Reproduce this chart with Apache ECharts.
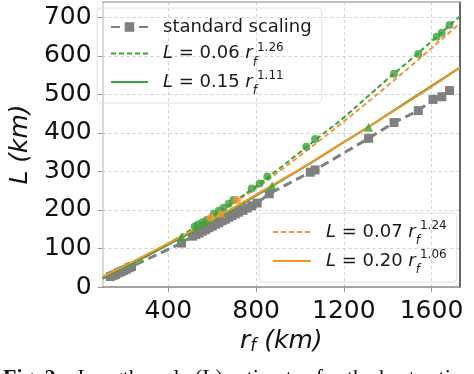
<!DOCTYPE html>
<html>
<head>
<meta charset="utf-8">
<script src="https://cdn.jsdelivr.net/npm/echarts@6/dist/echarts.min.js"></script>
<style>
html,body{margin:0;padding:0;background:#fff;}
#chart{width:474px;height:374px;}
</style>
</head>
<body>
<div id="chart"></div>
<script>
// ---- data ----
const xTicks = [400, 800, 1200, 1600];

const stdX = [135, 148, 160, 172, 184, 196, 208, 220, 232, 460, 510, 525, 540, 555, 570, 585, 600, 615, 630, 645, 660, 675, 690, 705, 720, 740, 760, 780, 805, 860, 1047, 1069, 1313, 1429, 1540, 1607, 1647, 1682];
const stdY = [27, 30, 33, 37, 40, 43, 46, 50, 53, 114, 132, 136, 140, 145, 149, 154, 158, 163, 167, 172, 176, 181, 185, 190, 194, 199, 205, 211, 218, 242, 298, 304, 386, 427, 458, 487, 494, 510];

const fitX = [100, 200, 300, 400, 500, 600, 700, 800, 900, 1000, 1100, 1200, 1300, 1400, 1500, 1600, 1700, 1730];
const greenDashY  = [22, 50, 80, 113, 148, 185, 222, 262, 305, 350, 395, 440, 490, 540, 588, 638, 688, 703];
const orangeDashY = [22, 50, 80, 112, 146, 182, 219, 257, 298, 341, 385, 430, 476, 523, 571, 620, 670, 685];
const greenSolidY = [25, 52, 80, 110, 140, 171, 203, 237, 271, 305, 340, 376, 411, 448, 485, 522, 559, 570];
const orangeSolidY= [27, 55, 84, 114, 144, 175, 207, 240, 273, 306, 341, 376, 411, 447, 483, 520, 558, 569];

const greenCircleX = [520, 535, 555, 575, 607, 630, 651, 675, 696, 780, 816, 851, 1029, 1069, 1429, 1540, 1624, 1647, 1682];
const greenCircleY = [157, 162, 168, 174, 190, 198, 206, 216, 226, 256, 269, 287, 364, 384, 554, 605, 650, 660, 680];
const orangeCircleX = [593, 713];
const orangeCircleY = [180, 226];
const greenTriX = [460, 873, 1313];
const greenTriY = [130, 263, 415];
const orangeTriX = [638];
const orangeTriY = [192];

const names = {
  std: 'standard scaling',
  gd: 'L = 0.06 r_f^1.26',
  gs: 'L = 0.15 r_f^1.11',
  od: 'L = 0.07 r_f^1.24',
  os: 'L = 0.20 r_f^1.06'
};
const legendRich = {
  [names.std]: 'standard scaling',
  [names.gd]: '{i|L} = 0.06 {i|r}{sub|f}{sup|1.26}',
  [names.gs]: '{i|L} = 0.15 {i|r}{sub|f}{sup|1.11}',
  [names.od]: '{i|L} = 0.07 {i|r}{sub|f}{sup|1.24}',
  [names.os]: '{i|L} = 0.20 {i|r}{sub|f}{sup|1.06}'
};

// ---- helpers ----
const zip = (xs, ys) => xs.map((x, i) => [x, ys[i]]);
const FONT = 'DejaVu Sans';
const GREEN = '#3ca03c';
const ORANGE = '#f5952e';
const GRAY = '#808080';

const legendText = {
  fontFamily: FONT, fontSize: 18, color: '#1a1a1a', lineHeight: 26,
  padding: [0, 0, 0, 10],
  rich: {
    i: {fontFamily: FONT, fontSize: 18, fontStyle: 'italic', color: '#1a1a1a'},
    sub: {fontFamily: FONT, fontSize: 12, fontStyle: 'italic', verticalAlign: 'bottom', height: 8, color: '#1a1a1a'},
    sup: {fontFamily: FONT, fontSize: 12, verticalAlign: 'top', height: 14, color: '#1a1a1a'}
  }
};
const lineOnly = n => ({name: n, itemStyle: {opacity: 0}});

const chart = echarts.init(document.getElementById('chart'), null, {renderer: 'canvas'});
const option = {
  animation: false,
  backgroundColor: '#fff',
  grid: {left: 94, right: 14, top: 2, bottom: 87, containLabel: false},
  xAxis: [{
    type: 'value', min: 100, max: 1730, position: 'bottom',
    name: '{i|r}{sub|f}{i| (km)}', nameLocation: 'middle', nameGap: 40,
    nameTextStyle: {
      fontFamily: FONT, fontSize: 25, color: '#111',
      rich: {
        i: {fontFamily: FONT, fontSize: 25, fontStyle: 'italic', color: '#111'},
        sub: {fontFamily: FONT, fontSize: 17, fontStyle: 'italic', verticalAlign: 'bottom', height: 14, color: '#111'}
      }
    },
    axisLine: {show: true, onZero: false, lineStyle: {color: '#8a8a8a', width: 1.5}},
    axisTick: {show: true, length: 5, customValues: xTicks, lineStyle: {color: '#999'}},
    axisLabel: {customValues: xTicks, formatter: v => String(v), fontFamily: FONT, fontSize: 25, color: '#111', margin: 12},
    splitLine: {show: true, lineStyle: {color: '#d0d0d0', type: [3, 3], width: 1}}
  }, {
    type: 'value', min: 100, max: 1730, position: 'top',
    axisLine: {show: true, onZero: false, lineStyle: {color: '#b0b0b0', width: 1.5}},
    axisTick: {show: false}, axisLabel: {show: false}, splitLine: {show: false}
  }],
  yAxis: [{
    type: 'value', min: 0, max: 740, interval: 100, position: 'left',
    name: 'L (km)', nameLocation: 'middle', nameGap: 66,
    nameTextStyle: {fontFamily: FONT, fontSize: 25, fontStyle: 'italic', color: '#111'},
    axisLine: {show: true, onZero: false, lineStyle: {color: '#cccccc', width: 1.5}},
    axisTick: {show: true, length: 5, lineStyle: {color: '#999'}},
    axisLabel: {fontFamily: FONT, fontSize: 25, color: '#111', margin: 11, showMaxLabel: false},
    splitLine: {show: true, lineStyle: {color: '#d0d0d0', type: [3, 3], width: 1}}
  }, {
    type: 'value', min: 0, max: 740, position: 'right',
    axisLine: {show: true, onZero: false, lineStyle: {color: '#333', width: 1.5}},
    axisTick: {show: false}, axisLabel: {show: false}, splitLine: {show: false}
  }],
  legend: [{
    orient: 'vertical', left: 97, top: 8, padding: [6, 10, 6, 13],
    itemWidth: 37, itemHeight: 12, itemGap: 0.5,
    borderColor: '#e2e2e2', borderWidth: 1, borderRadius: 4,
    data: [names.std, lineOnly(names.gd), lineOnly(names.gs)],
    formatter: n => legendRich[n],
    textStyle: legendText
  }, {
    orient: 'vertical', left: 259, top: 213, padding: [6, 10, 6, 13],
    itemWidth: 38, itemHeight: 12, itemGap: 1,
    borderColor: '#e2e2e2', borderWidth: 1, borderRadius: 4,
    data: [lineOnly(names.od), lineOnly(names.os)],
    formatter: n => legendRich[n],
    textStyle: legendText
  }],
  series: [
    {
      name: names.std, type: 'line', data: zip(stdX, stdY),
      symbol: 'rect', symbolSize: 9, showSymbol: true,
      itemStyle: {color: GRAY}, lineStyle: {color: GRAY, width: 3, type: [9, 5]}, z: 2
    },
    {
      name: names.od, type: 'line', data: zip(fitX, orangeDashY), symbol: 'none', smooth: true,
      itemStyle: {color: ORANGE}, lineStyle: {color: ORANGE, width: 2, type: [5, 3]}, z: 3
    },
    {
      name: names.gd, type: 'line', data: zip(fitX, greenDashY), symbol: 'none', smooth: true,
      itemStyle: {color: GREEN}, lineStyle: {color: GREEN, width: 2, type: [5, 3]}, z: 3
    },
    {
      name: names.gs, type: 'line', data: zip(fitX, greenSolidY), symbol: 'none', smooth: true,
      itemStyle: {color: GREEN}, lineStyle: {color: GREEN, width: 2}, z: 3
    },
    {
      name: names.os, type: 'line', data: zip(fitX, orangeSolidY), symbol: 'none', smooth: true,
      itemStyle: {color: ORANGE}, lineStyle: {color: ORANGE, width: 2}, z: 3
    },
    {
      name: 'green circles', type: 'scatter', data: zip(greenCircleX, greenCircleY),
      symbol: 'circle', symbolSize: 8, itemStyle: {color: GREEN}, z: 4
    },
    {
      name: 'green triangles', type: 'scatter', data: zip(greenTriX, greenTriY),
      symbol: 'triangle', symbolSize: 9, itemStyle: {color: GREEN}, z: 4
    },
    {
      name: 'orange circles', type: 'scatter', data: zip(orangeCircleX, orangeCircleY),
      symbol: 'circle', symbolSize: 8, itemStyle: {color: ORANGE}, z: 5
    },
    {
      name: 'orange triangles', type: 'scatter', data: zip(orangeTriX, orangeTriY),
      symbol: 'triangle', symbolSize: 9, itemStyle: {color: ORANGE}, z: 5
    }
  ],
  graphic: [{
    type: 'text', left: 3, top: 367, silent: true,
    style: {
      text: '{b|Fig. 2.}   Length scale (L) estimates for the best estimat',
      fontFamily: 'Liberation Serif', fontSize: 22, fill: '#111',
      rich: {b: {fontFamily: 'Liberation Serif', fontSize: 22, fontWeight: 'bold', fill: '#111'}}
    }
  }]
};
chart.setOption(option);
</script>
</body>
</html>
